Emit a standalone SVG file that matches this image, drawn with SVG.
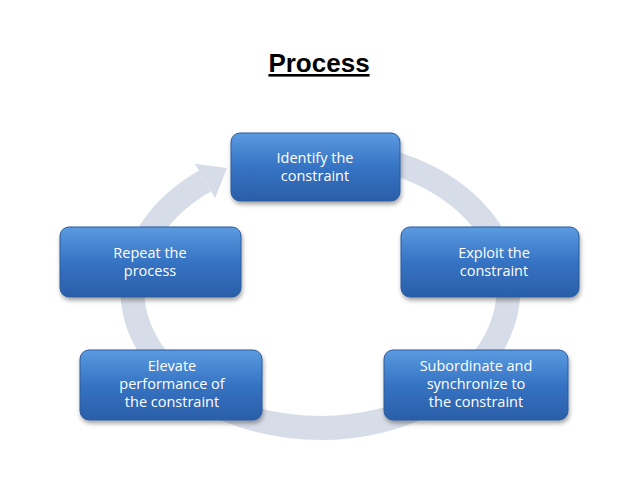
<svg xmlns="http://www.w3.org/2000/svg" width="638" height="478" viewBox="0 0 638 478">
<defs>
<linearGradient id="g" x1="0" y1="0" x2="0" y2="1">
<stop offset="0" stop-color="#5b9be0"/><stop offset="0.5" stop-color="#3673c4"/><stop offset="1" stop-color="#2a5fa8"/>
</linearGradient>
<filter id="sh" x="-10%" y="-10%" width="130%" height="140%"><feDropShadow dx="1" dy="3" stdDeviation="2" flood-color="#000" flood-opacity="0.35"/></filter>
</defs>
<style>
.box{fill:url(#g);stroke:#2a5a9c;stroke-width:1;filter:url(#sh)}
.t{font-family:"Open Sans","DejaVu Sans",sans-serif;font-size:14.5px;fill:#fff;text-anchor:middle}
</style>
<rect width="638" height="478" fill="#fff"/>
<text x="319" y="72" font-family="'Liberation Sans',Arial,sans-serif" font-size="26" font-weight="bold" text-anchor="middle" text-decoration="underline">Process</text>
<g id="connectors">
<path d="M 322 152 A 188 138 0 1 1 205 181" fill="none" stroke="#d7dde8" stroke-width="24"/>
<polygon points="215.1,198.3 194.9,163.7 227,168" fill="#d7dde8"/>
</g>
<g id="identify"><rect class="box" x="231" y="133" width="169" height="68" rx="9"/><text class="t" x="315" y="163">Identify the</text><text class="t" x="315" y="181">constraint</text></g>
<g id="exploit"><rect class="box" x="401" y="227" width="178" height="70" rx="9"/><text class="t" x="494" y="258">Exploit the</text><text class="t" x="494" y="276">constraint</text></g>
<g id="subordinate"><rect class="box" x="384" y="350" width="184" height="70" rx="9"/><text class="t" x="476" y="371">Subordinate and</text><text class="t" x="476" y="389">synchronize to</text><text class="t" x="476" y="407">the constraint</text></g>
<g id="elevate"><rect class="box" x="80" y="350" width="182" height="70" rx="9"/><text class="t" x="172" y="371">Elevate</text><text class="t" x="172" y="389">performance of</text><text class="t" x="172" y="407">the constraint</text></g>
<g id="repeat"><rect class="box" x="60" y="227" width="181" height="70" rx="9"/><text class="t" x="150" y="258">Repeat the</text><text class="t" x="150" y="276">process</text></g>
</svg>
